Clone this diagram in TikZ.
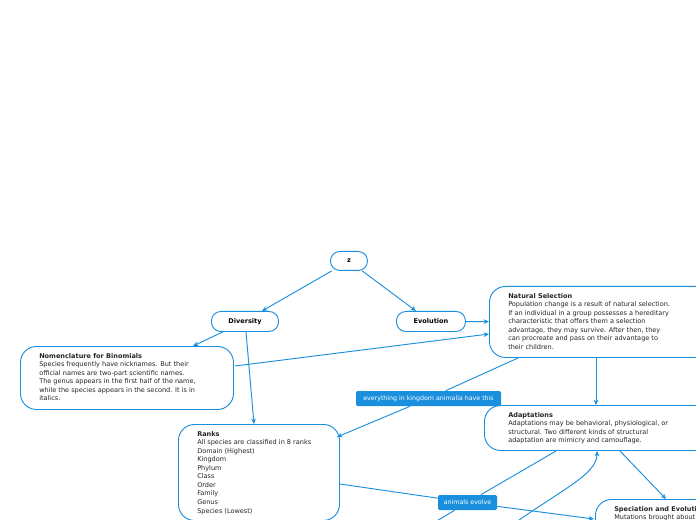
\documentclass[tikz,border=0pt]{standalone}
\usepackage{fontspec}
\setmainfont{DejaVu Sans}
\usetikzlibrary{arrows.meta}
\definecolor{bl}{HTML}{1A8FDD}
\begin{document}
\begin{tikzpicture}[x=0.75pt,y=-0.75pt,
  box/.style={draw=bl,line width=0.7pt,fill=white,rounded corners=#1,anchor=north west,inner sep=0pt},
  box/.default=12pt,
  txt/.style={anchor=north west,align=left,inner sep=0pt,font=\fontsize{4.9}{6.4}\selectfont,text=black!85},
  ttl/.style={font=\fontsize{4.9}{6}\selectfont\bfseries,inner sep=0pt},
  lab/.style={fill=bl,text=white,rounded corners=1pt,inner sep=0pt,font=\fontsize{4.7}{5}\selectfont},
  con/.style={draw=bl,line width=0.7pt},
  arr/.style={con,-{Stealth[length=4pt,width=3.5pt]}}]
\useasboundingbox (0,0) rectangle (696,520);
\begin{scope}
\clip (0,0) rectangle (696,520);
% small nodes
\node[box=7pt,minimum width=37*0.75pt,minimum height=19*0.75pt,ttl] (z) at (330,251) {z};
\node[box=7pt,minimum width=67*0.75pt,minimum height=20*0.75pt,ttl] (div) at (211,311) {Diversity};
\node[box=7pt,minimum width=69*0.75pt,minimum height=20*0.75pt,ttl] (evo) at (396,311) {Evolution};
% big boxes
\node[box,minimum width=240*0.75pt,minimum height=71*0.75pt] (ns) at (489,286) {};
\node[txt] at (508,293) {\textbf{Natural Selection}\\Population change is a result of natural selection.\\If an individual in a group possesses a hereditary\\characteristic that offers them a selection\\advantage, they may survive. After then, they\\can procreate and pass on their advantage to\\their children.};
\node[box,minimum width=213*0.75pt,minimum height=63*0.75pt] (nom) at (20,346) {};
\node[txt] at (39,353) {\textbf{Nomenclature for Binomials}\\Species frequently have nicknames. But their\\official names are two-part scientific names.\\The genus appears in the first half of the name,\\while the species appears in the second. It is in\\italics.};
\node[box,minimum width=161*0.75pt,minimum height=96*0.75pt] (rk) at (178,424) {};
\node[txt] at (197,431) {\textbf{Ranks}\\All species are classified in 8 ranks\\Domain (Highest)\\Kingdom\\Phylum\\Class\\Order\\Family\\Genus\\Species (Lowest)};
\node[box,minimum width=240*0.75pt,minimum height=45*0.75pt] (ad) at (484,405) {};
\node[txt] at (508,412) {\textbf{Adaptations}\\Adaptations may be behavioral, physiological, or\\structural. Two different kinds of structural\\adaptation are mimicry and camouflage.};
\node[box,minimum width=140*0.75pt,minimum height=40*0.75pt] (sp) at (595,499) {};
\node[txt] at (614,506) {\textbf{Speciation and Evolution}\\Mutations brought about};
% labels
\node[lab,minimum width=145*0.75pt,minimum height=15*0.75pt] (l1) at (428.5,398.5) {everything in kingdom animalia have this};
\node[lab,minimum width=59*0.75pt,minimum height=15*0.75pt] (l2) at (467.5,502.5) {animals evolve};
% connectors
\draw[arr] (z) -- (262,311);
\draw[arr] (z) -- (416,311);
\draw[arr] (div) -- (193,346);
\draw[arr] (246,332) -- (254,424);
\draw[arr] (235,366) -- (489,334);
\draw[arr] (evo) -- (ns);
\draw[arr] (596,358) -- (596,405);
\draw[arr] (620,451) -- (666,499);
\draw[con] (518,358) -- (l1);
\draw[arr] (l1) -- (337,437);
\draw[con] (340,484) -- (l2);
\draw[arr] (l2) -- (594,519);
\draw[con] (556,451) -- (l2);
\draw[con] (l2) -- (430,525);
\coordinate (c0) at (505,530);
\draw[arr] (c0) .. controls (560,490) and (597,475) .. (597,451);
\end{scope}
\end{tikzpicture}
\end{document}
